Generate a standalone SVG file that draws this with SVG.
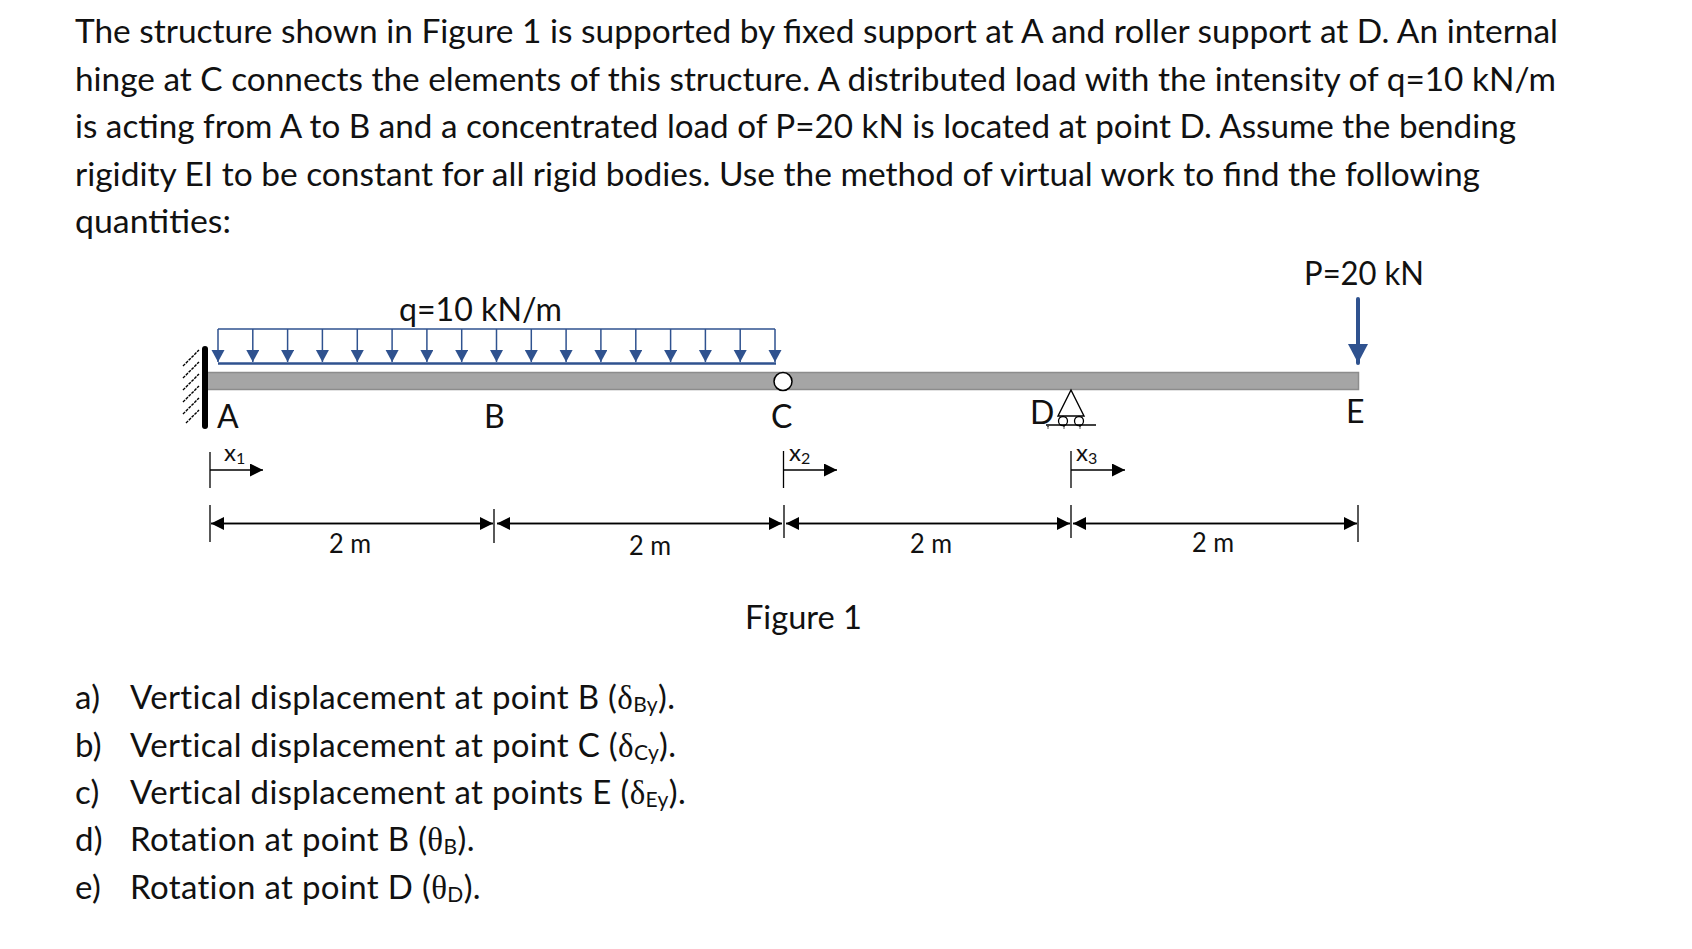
<svg xmlns="http://www.w3.org/2000/svg" width="1692" height="949" viewBox="0 0 1692 949">
<defs>
<marker id="bh" markerUnits="userSpaceOnUse" markerWidth="13" markerHeight="14" refX="12" refY="6.5" orient="auto"><path d="M0,0L12,6.500L0,13z" fill="#2f528f"/></marker>
<marker id="kh" markerUnits="userSpaceOnUse" markerWidth="14" markerHeight="14" refX="13" refY="6.5" orient="auto-start-reverse"><path d="M0,0L13,6.500L0,13z" fill="#000"/></marker>
<marker id="bh2" markerUnits="userSpaceOnUse" markerWidth="20" markerHeight="20" refX="19" refY="10" orient="auto"><path d="M0,0L19,10L0,20z" fill="#2f528f"/></marker>
</defs>
<style>
text{font-family:Lato,"Open Sans",sans-serif;fill:#111}
.b{font-size:33px}
.q{font-size:33px;letter-spacing:.35px}
.l{font-size:32px}
.s{font-size:24px}
.g{font-family:"Liberation Serif",serif}
.sub{font-size:21px}
.load{stroke:#2f528f;stroke-width:1.5;fill:none}
.t{stroke:#000;stroke-width:1.3;fill:none}
.d{stroke:#000;stroke-width:1.4;fill:none;marker-end:url(#kh)}
</style>
<rect width="1692" height="949" fill="#fff"/>
<g id="statement" class="b">
<text x="75" y="43" textLength="1483" lengthAdjust="spacingAndGlyphs">The structure shown in Figure 1 is supported by fixed support at A and roller support at D. An internal</text>
<text x="75" y="91" textLength="1481" lengthAdjust="spacingAndGlyphs">hinge at C connects the elements of this structure. A distributed load with the intensity of q=10 kN/m</text>
<text x="75" y="138" textLength="1441" lengthAdjust="spacingAndGlyphs">is acting from A to B and a concentrated load of P=20 kN is located at point D. Assume the bending</text>
<text x="75" y="185.500" textLength="1405" lengthAdjust="spacingAndGlyphs">rigidity EI to be constant for all rigid bodies. Use the method of virtual work to find the following</text>
<text x="75" y="233" textLength="156" lengthAdjust="spacingAndGlyphs">quantities:</text>
</g>
<g id="beam"><rect x="205" y="372.500" width="1153.500" height="17" fill="#a5a5a5" stroke="#8c8c8c" stroke-width="1.500"/></g>
<g id="support-A">
<path d="M183,366L199,350M183,378L199,362M183,390L199,374M183,402L199,386M183,414L199,398M186,423L199,410" stroke="#000" stroke-width="1.400" stroke-dasharray="3 1" fill="none"/>
<line x1="205" y1="349" x2="205" y2="426" stroke="#000" stroke-width="6" stroke-linecap="round"/>
<text class="l" x="217" y="428">A</text>
</g>
<g id="load-q">
<path class="load" d="M218,329H775"/>
<path d="M218,363.500H776" stroke="#2f528f" stroke-width="2.500"/>
<g class="load">
<path d="M218,329V362" marker-end="url(#bh)"/><path d="M252.800,329V362" marker-end="url(#bh)"/><path d="M287.600,329V362" marker-end="url(#bh)"/><path d="M322.400,329V362" marker-end="url(#bh)"/><path d="M357.300,329V362" marker-end="url(#bh)"/><path d="M392.100,329V362" marker-end="url(#bh)"/><path d="M426.900,329V362" marker-end="url(#bh)"/><path d="M461.700,329V362" marker-end="url(#bh)"/><path d="M496.500,329V362" marker-end="url(#bh)"/><path d="M531.300,329V362" marker-end="url(#bh)"/><path d="M566.100,329V362" marker-end="url(#bh)"/><path d="M600.900,329V362" marker-end="url(#bh)"/><path d="M635.800,329V362" marker-end="url(#bh)"/><path d="M670.600,329V362" marker-end="url(#bh)"/><path d="M705.400,329V362" marker-end="url(#bh)"/><path d="M740.200,329V362" marker-end="url(#bh)"/><path d="M775,329V362" marker-end="url(#bh)"/>
</g>
<text class="l" x="399" y="320.500" textLength="163" lengthAdjust="spacingAndGlyphs">q=10 kN/m</text>
</g>
<g id="point-B"><text class="l" x="484" y="428">B</text></g>
<g id="hinge-C"><circle cx="783" cy="381.500" r="9" fill="#fff" stroke="#000" stroke-width="1.500"/><text class="l" x="771" y="428">C</text></g>
<g id="support-D">
<path d="M1071,390L1058,416H1084Z" fill="#fff" stroke="#000" stroke-width="1.400"/>
<circle cx="1063" cy="421" r="4.500" fill="#fff" stroke="#000" stroke-width="1.300"/><circle cx="1079" cy="421" r="4.500" fill="#fff" stroke="#000" stroke-width="1.300"/>
<path d="M1046,425H1096" stroke="#000" stroke-width="1.300"/>
<path d="M1048,426V429M1064,426V429M1080,426V429" stroke="#000" stroke-width="1.300" stroke-dasharray="1.500 1"/>
<text class="l" x="1030" y="424">D</text>
</g>
<g id="point-E">
<path d="M1358,299V363" stroke="#2f528f" stroke-width="4" stroke-linecap="round" marker-end="url(#bh2)"/>
<text class="l" x="1346" y="423">E</text>
<text class="l" x="1304" y="285" textLength="120" lengthAdjust="spacingAndGlyphs">P=20 kN</text>
</g>
<g id="coordinates">
<path class="t" d="M210,452V488"/><path class="d" d="M210,470H263"/>
<path class="t" d="M783.500,451V488"/><path class="d" d="M783.500,470H837"/>
<path class="t" d="M1071,451V488"/><path class="d" d="M1071,470H1125"/>
<text class="s" x="224" y="461">x<tspan font-size="16" dy="3">1</tspan></text>
<text class="s" x="789" y="461">x<tspan font-size="16" dy="3">2</tspan></text>
<text class="s" x="1076" y="461">x<tspan font-size="16" dy="3">3</tspan></text>
</g>
<g id="connectors">
<path class="t" d="M210,505V542M494,509V543M784,505V538M1071,505V538M1358,505V542"/>
<path class="d" d="M493,523.500H211"/>
<path class="d" d="M211,523.500H493"/>
<path class="d" d="M782,523.500H497"/>
<path class="d" d="M497,523.500H782"/>
<path class="d" d="M1070,523.500H786"/>
<path class="d" d="M786,523.500H1070"/>
<path class="d" d="M1357,523.500H1073"/>
<path class="d" d="M1073,523.500H1357"/>
</g>
<g id="dimensions" font-size="26">
<text x="329" y="553" textLength="42" lengthAdjust="spacingAndGlyphs">2 m</text>
<text x="629" y="555" textLength="42" lengthAdjust="spacingAndGlyphs">2 m</text>
<text x="910" y="553" textLength="42" lengthAdjust="spacingAndGlyphs">2 m</text>
<text x="1192" y="552" textLength="42" lengthAdjust="spacingAndGlyphs">2 m</text>
</g>
<g id="caption"><text class="b" x="745" y="629" textLength="117" lengthAdjust="spacingAndGlyphs">Figure 1</text></g>
<g id="questions" class="q">
<text x="75" y="709">a)</text><text x="130" y="709">Vertical displacement at point B (<tspan class="g">δ</tspan><tspan class="sub" dy="3">By</tspan><tspan dy="-3">).</tspan></text>
<text x="75" y="757">b)</text><text x="130" y="757">Vertical displacement at point C (<tspan class="g">δ</tspan><tspan class="sub" dy="3">Cy</tspan><tspan dy="-3">).</tspan></text>
<text x="75" y="804">c)</text><text x="130" y="804">Vertical displacement at points E (<tspan class="g">δ</tspan><tspan class="sub" dy="3">Ey</tspan><tspan dy="-3">).</tspan></text>
<text x="75" y="851">d)</text><text x="130" y="851">Rotation at point B (<tspan class="g">θ</tspan><tspan class="sub" dy="3">B</tspan><tspan dy="-3">).</tspan></text>
<text x="75" y="899">e)</text><text x="130" y="899">Rotation at point D (<tspan class="g">θ</tspan><tspan class="sub" dy="3">D</tspan><tspan dy="-3">).</tspan></text>
</g>
</svg>
